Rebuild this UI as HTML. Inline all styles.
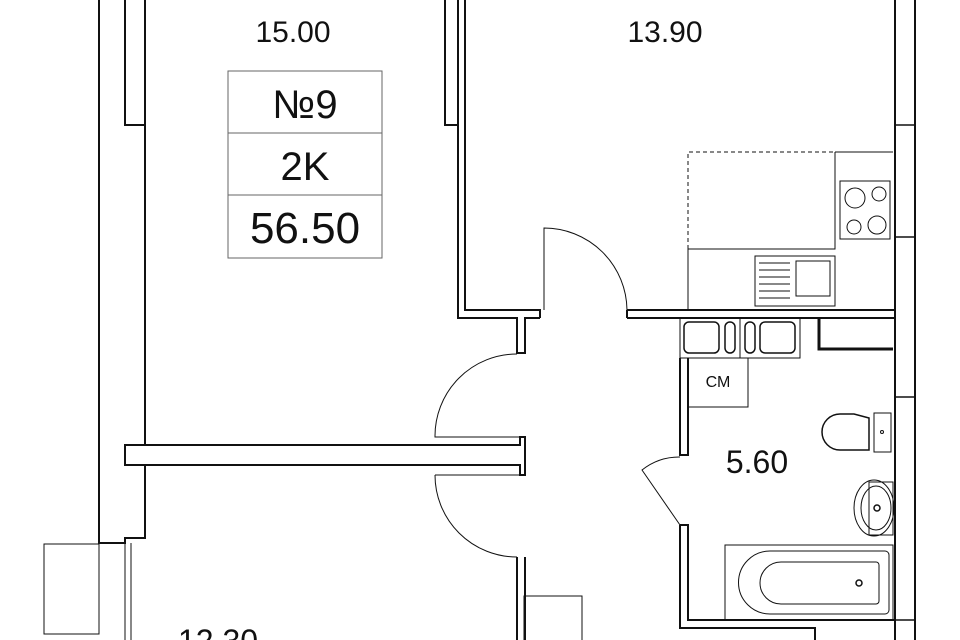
<!DOCTYPE html>
<html><head><meta charset="utf-8"><style>
html,body{margin:0;padding:0;background:#fff}
svg{display:block}
text{font-family:"Liberation Sans","DejaVu Sans",sans-serif;fill:#111}
</style></head><body>
<svg width="960" height="640" viewBox="0 0 960 640" xmlns="http://www.w3.org/2000/svg">
<g fill="none" stroke="#111" stroke-width="2">
<path d="M99 0 V543 H125 V538 H145 V465"/>
<path d="M145 0 V445"/>
<path d="M125 0 V125 H145"/>
<path d="M125 543 V640 M131 543 V640" stroke-width="1"/>
<rect x="44" y="544" width="55" height="90" stroke-width="1"/>
<path d="M125 445 H520 V437 H525 V475 H520 V465 H125 Z"/>
<path d="M445 0 V125 H458 V318 H517 V353 H525 V318 H540"/>
<path d="M465 0 V310 H540 V318"/>
<path d="M458 0 V125"/>
<path d="M517 354 A82 82 0 0 0 435 437 H520" stroke-width="1"/>
<path d="M435 475 A82 82 0 0 0 517 557" stroke-width="1"/>
<path d="M435 475 H520" stroke-width="1"/>
<path d="M517 557 V640 M525 557 V640"/>
<rect x="524" y="596" width="58" height="50" stroke-width="1"/>
<path d="M544 310 V228 A83 83 0 0 1 627 310" stroke-width="1"/>
<path d="M627 310 H895 M627 318 H895 M627 310 V318"/>
<path d="M895 0 V640 M915 0 V640"/>
<path d="M895 125 H915 M895 237 H915 M895 397 H915 M895 620 H915" stroke-width="1.5"/>
<path d="M688 249 V152 H835" stroke-width="1" stroke-dasharray="4 3"/>
<path d="M835 152 H893 M835 152 V249 H688 V310" stroke-width="1"/>
<rect x="840" y="181" width="50" height="58" stroke-width="1"/>
<circle cx="855" cy="198" r="10" stroke-width="1"/>
<circle cx="879" cy="194" r="7" stroke-width="1"/>
<circle cx="854" cy="227" r="7" stroke-width="1"/>
<circle cx="877" cy="225" r="9" stroke-width="1"/>
<rect x="755" y="256" width="80" height="50" stroke-width="1"/>
<rect x="796" y="261" width="34" height="35" stroke-width="1"/>
<path d="M759 263 H790 M759 270 H790 M759 277 H790 M759 284 H790 M759 291 H790 M759 298 H790" stroke-width="1"/>
<rect x="680" y="318" width="120" height="40" stroke-width="1"/>
<path d="M740 318 V358" stroke-width="1"/>
<rect x="684" y="322" width="35" height="31" rx="5" stroke-width="1.5"/>
<rect x="725" y="322" width="10" height="31" rx="5" stroke-width="1.5"/>
<rect x="745" y="322" width="10" height="31" rx="5" stroke-width="1.5"/>
<rect x="760" y="322" width="35" height="31" rx="5" stroke-width="1.5"/>
<path d="M819 318 V349 H893" stroke-width="3"/>
<path d="M680 358 V455 H688 V358 M680 525 H688 V620 H895 M680 525 V628 H815 V640" />
<path d="M688 407 H748 V358" stroke-width="1"/>
<path d="M680 457 A60 60 0 0 0 642 470 L680 525" stroke-width="1"/>
<rect x="874" y="413" width="17" height="39" stroke-width="1"/>
<circle cx="882" cy="432" r="1.5" stroke-width="1"/>
<path d="M869 418 L854 414 H840 A16 16 0 0 0 840 450 H854 L869 450 Z" stroke-width="1.5"/>
<rect x="869" y="482" width="24" height="53" stroke-width="1"/>
<ellipse cx="874" cy="508" rx="20" ry="28" stroke-width="1"/>
<ellipse cx="876" cy="508" rx="15" ry="22" stroke-width="1"/>
<circle cx="877" cy="508" r="3" stroke-width="1.5"/>
<rect x="725" y="545" width="168" height="75" stroke-width="1"/>
<path d="M770 551 H885 A4 4 0 0 1 889 555 V610 A4 4 0 0 1 885 614 H770 A31.5 31.5 0 0 1 770 551 Z" stroke-width="1"/>
<path d="M781 562 H876 A3 3 0 0 1 879 565 V601 A3 3 0 0 1 876 604 H781 A21 21 0 0 1 781 562 Z" stroke-width="1"/>
<circle cx="859" cy="583" r="3" stroke-width="1.5"/>
<rect x="228" y="71" width="154" height="187" stroke="#666" stroke-width="1"/>
<path d="M228 133 H382 M228 195 H382" stroke="#666" stroke-width="1"/>
</g>
<text x="293" y="42" font-size="30" text-anchor="middle">15.00</text>
<text x="665" y="42" font-size="30" text-anchor="middle">13.90</text>
<text x="305" y="118" font-size="40" text-anchor="middle">№9</text>
<text x="305" y="180" font-size="40" text-anchor="middle">2K</text>
<text x="305" y="243" font-size="44" text-anchor="middle">56.50</text>
<text x="757" y="473" font-size="32" text-anchor="middle">5.60</text>
<text x="718" y="387" font-size="16" text-anchor="middle">СМ</text>
<text x="218" y="652" font-size="32" text-anchor="middle">12.30</text>
</svg>
</body></html>
